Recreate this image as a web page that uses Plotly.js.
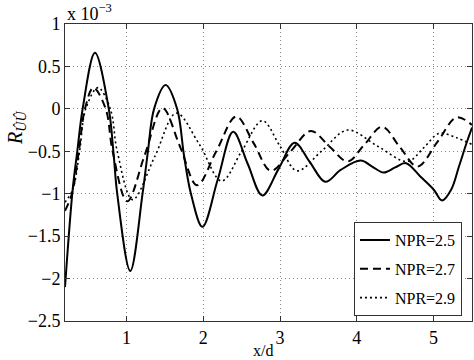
<!DOCTYPE html>
<html>
<head>
<meta charset="utf-8">
<script src="https://cdn.plot.ly/plotly-3.0.1.min.js"></script>
<style>html,body{margin:0;padding:0;background:#fff}#chart{width:474px;height:360px}</style>
</head>
<body>
<div id="chart"></div>
<script>
// Values in units of 1e-3 (axis multiplier "x 10^-3")
const xNPR25 = [0.2, 0.3, 0.36, 0.43, 0.59, 0.77, 0.83, 0.88, 1.05, 1.21, 1.28, 1.36, 1.51, 1.66, 1.75, 1.84, 1.99, 2.19, 2.39, 2.58, 2.77, 2.98, 3.19, 3.39, 3.59, 3.79, 4.05, 4.2, 4.35, 4.5, 4.64, 4.83, 5.0, 5.11, 5.23, 5.33, 5.43, 5.5];
const yNPR25 = [-2.1, -0.95, -0.5, 0.0, 0.66, 0.0, -0.5, -1.0, -1.91, -1.0, -0.5, 0.0, 0.28, 0.0, -0.55, -1.0, -1.39, -0.83, -0.27, -0.65, -1.02, -0.71, -0.40, -0.63, -0.86, -0.72, -0.61, -0.68, -0.75, -0.69, -0.64, -0.80, -0.95, -1.08, -0.95, -0.68, -0.40, -0.22];

const xNPR27 = [0.2, 0.29, 0.38, 0.46, 0.57, 0.73, 0.82, 1.01, 1.24, 1.47, 1.7, 1.92, 2.17, 2.43, 2.66, 2.88, 3.14, 3.40, 3.64, 3.88, 4.1, 4.33, 4.56, 4.79, 5.05, 5.30, 5.5];
const yNPR27 = [-1.2, -1.0, -0.5, 0.0, 0.25, 0.0, -0.5, -1.09, -0.54, 0.01, -0.45, -0.90, -0.50, -0.09, -0.41, -0.73, -0.50, -0.26, -0.44, -0.62, -0.42, -0.21, -0.45, -0.68, -0.39, -0.10, -0.19];

const xNPR29 = [0.2, 0.3, 0.39, 0.47, 0.63, 0.79, 0.88, 1.08, 1.37, 1.65, 1.95, 2.24, 2.5, 2.77, 3.0, 3.22, 3.55, 3.88, 4.27, 4.66, 4.87, 5.07, 5.3, 5.5];
const yNPR29 = [-1.1, -0.95, -0.5, 0.0, 0.25, 0.0, -0.5, -1.07, -0.56, -0.05, -0.42, -0.85, -0.5, -0.14, -0.44, -0.73, -0.49, -0.25, -0.44, -0.62, -0.46, -0.29, -0.34, -0.42];

const seriesNames = ["NPR=2.5", "NPR=2.7", "NPR=2.9"];
const xTicks = [1, 2, 3, 4, 5];
const yTicks = [-2.5, -2, -1.5, -1, -0.5, 0, 0.5, 1];

const serif = "Liberation Serif";

const traces = [
  {x: xNPR25, y: yNPR25, name: seriesNames[0], legendgroup: "a", mode: "lines",
   line: {color: "#000", width: 2, shape: "spline", smoothing: 1}},
  {x: xNPR27, y: yNPR27, name: seriesNames[1], legendgroup: "b", mode: "lines",
   line: {color: "#000", width: 2, dash: "8px,5px", shape: "spline", smoothing: 1}},
  {x: xNPR29, y: yNPR29, name: seriesNames[2], legendgroup: "c", mode: "lines",
   line: {color: "#000", width: 1.6, dash: "2px,3px", shape: "spline", smoothing: 1}}
];

const axisCommon = {
  showline: true, mirror: "ticks", linecolor: "#333", linewidth: 1,
  ticks: "inside", ticklen: 5, tickcolor: "#333",
  showgrid: true, gridcolor: "#888", griddash: "1px,3px", gridwidth: 1,
  zeroline: false, tickfont: {family: serif, size: 18, color: "#000"}
};

const layout = {
  width: 474, height: 360,
  margin: {l: 65, r: 2, t: 24, b: 39},
  paper_bgcolor: "#fff", plot_bgcolor: "#fff",
  font: {family: serif},
  showlegend: true,
  legend: {x: 0.71, y: 0.333, xanchor: "left", yanchor: "top",
    bordercolor: "#333", borderwidth: 1, bgcolor: "#fff",
    font: {family: serif, size: 16, color: "#000"},
    traceorder: "grouped", tracegroupgap: 5},
  xaxis: Object.assign({}, axisCommon, {
    range: [0.2, 5.5], tickvals: xTicks
  }),
  yaxis: Object.assign({}, axisCommon, {
    range: [-2.5, 1], tickvals: yTicks
  }),
  annotations: [
    {xref: "paper", yref: "paper", x: 0.487, y: -0.1313, xanchor: "center", yanchor: "bottom",
     text: "x/d", showarrow: false, borderpad: 0,
     font: {family: serif, size: 16, color: "#000"}},
    {xref: "paper", yref: "paper", x: 0, y: 1, xanchor: "left", yanchor: "bottom",
     text: "x 10<sup>−3</sup>", showarrow: false, yshift: -2,
     font: {family: serif, size: 18, color: "#000"}},
    {xref: "paper", yref: "paper", x: -0.118, y: 0.65, xanchor: "center", yanchor: "middle",
     text: "<i>R</i><sub><i>ÛÛ</i></sub>", textangle: -90, showarrow: false,
     font: {family: serif, size: 20, color: "#000"}}
  ]
};

Plotly.newPlot("chart", traces, layout, {displayModeBar: false, staticPlot: true});
</script>
</body>
</html>
